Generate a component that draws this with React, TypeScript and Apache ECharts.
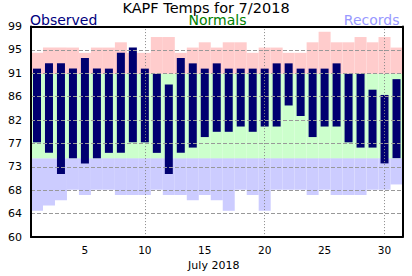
import React, { useEffect, useRef } from "react";
import * as echarts from "echarts";

const days = Array.from({ length: 31 }, (_, i) => String(i + 1));
const obsHigh = [91, 92, 92, 91, 93, 91, 91, 94, 95, 91, 90, 88, 93, 92, 91, 92, 91, 91, 91, 91, 92, 92, 91, 91, 91, 92, 90, 90, 87, 86, 89];
const obsLow = [77, 75, 71, 74, 73, 74, 75, 75, 77, 77, 75, 71, 75, 76, 78, 79, 79, 80, 79, 80, 80, 84, 82, 78, 80, 80, 77, 76, 76, 73, 74];
const recHigh = [94, 95, 95, 95, 94, 95, 95, 96, 94, 94, 97, 97, 94, 95, 96, 95, 96, 96, 94, 95, 95, 94, 94, 96, 98, 96, 96, 97, 96, 97, 95];
const recLow = [64, 65, 66, 68, 67, 68, 68, 67, 67, 67, 68, 67, 67, 66, 67, 66, 64, 68, 67, 64, 68, 68, 68, 67, 68, 67, 67, 67, 68, 68, 69];
const normHigh = Array.from({ length: 31 }, () => 90);
const normLow = Array.from({ length: 31 }, () => 74);
const yLabels = ["60", "64", "68", "73", "77", "82", "86", "91", "95", "99"];
const dottedDays = ["10", "20", "30"];

const Y_MIN = 59;
const Y_MAX = 99;
const Y_STEP = (Y_MAX - Y_MIN) / 9;
const FONT = "DejaVu Sans";

export default function App() {
  const ref = useRef<HTMLDivElement>(null);
  useEffect(() => {
    document.body.style.margin = "0";
    if (!ref.current) return;
    const chart = echarts.init(ref.current, undefined, { renderer: "svg" });
    const bandData = days.map((_, i) => [i, recLow[i], normLow[i], normHigh[i], recHigh[i]]);
    const obsData = days.map((_, i) => [i, obsLow[i], obsHigh[i]]);
    const option: any = {
      animation: false,
      backgroundColor: "#ffffff",
      title: [
        { text: "KAPF Temps for 7/2018", left: "center", top: 0, padding: 0, textStyle: { fontFamily: FONT, fontSize: 14.5, fontWeight: "normal", color: "#000" } },
        { text: "Observed", left: 30, top: 12.5, padding: 0, textStyle: { fontFamily: FONT, fontSize: 14, fontWeight: "normal", color: "#000080" } },
        { text: "Normals", left: 188.5, top: 12.5, padding: 0, textStyle: { fontFamily: FONT, fontSize: 14, fontWeight: "normal", color: "#008000" } },
        { text: "Records", right: 12.5, top: 12.5, padding: 0, textStyle: { fontFamily: FONT, fontSize: 14, fontWeight: "normal", color: "#9999ff" } },
      ],
      grid: { left: 31, right: 9.5, top: 26.5, bottom: 29.5, containLabel: false },
      xAxis: [
        {
          type: "category",
          data: days,
          boundaryGap: true,
          position: "bottom",
          z: 11,
          axisLine: { onZero: false, lineStyle: { color: "#000", width: 2 } },
          axisTick: { alignWithLabel: true, interval: 0, length: 4, lineStyle: { color: "#000", width: 1 } },
          axisLabel: { interval: (i: number) => (i + 1) % 5 === 0, margin: 7, color: "#000", fontSize: 10.5, fontFamily: FONT },
          splitLine: { show: false },
          name: "July 2018",
          nameLocation: "middle",
          nameGap: 16,
          nameTextStyle: { fontFamily: FONT, fontSize: 11, color: "#000", padding: [0, 6, 0, 0] },
        },
        {
          type: "category",
          data: days,
          position: "top",
          z: 11,
          axisLine: { onZero: false, lineStyle: { color: "#000", width: 2 } },
          axisTick: { show: false },
          axisLabel: { show: false },
          splitLine: { show: false },
        },
      ],
      yAxis: [
        {
          type: "value",
          min: Y_MIN,
          max: Y_MAX,
          interval: Y_STEP,
          z: 10,
          axisLine: { show: true, onZero: false, lineStyle: { color: "#000", width: 2 } },
          axisTick: { show: false },
          axisLabel: {
            margin: 9,
            color: "#000",
            fontSize: 11,
            fontFamily: FONT,
            formatter: (v: number) => yLabels[Math.round((v - Y_MIN) / Y_STEP)] ?? "",
          },
          splitLine: { show: true, lineStyle: { color: "#999999", width: 1, type: [4, 2] } },
        },
        {
          type: "value",
          min: Y_MIN,
          max: Y_MAX,
          interval: Y_STEP,
          position: "right",
          z: 11,
          axisLine: { show: true, onZero: false, lineStyle: { color: "#000", width: 2 } },
          axisTick: { show: false },
          axisLabel: { show: false },
          splitLine: { show: false },
        },
      ],
      series: [
        {
          type: "custom",
          name: "bands",
          data: bandData,
          encode: { x: 0, y: [1, 2, 3, 4] },
          renderItem: (params: any, api: any) => {
            const x = api.value(0);
            const w = api.size([1, 0])[0];
            const pRl = api.coord([x, api.value(1)]);
            const pNl = api.coord([x, api.value(2)]);
            const pNh = api.coord([x, api.value(3)]);
            const pRh = api.coord([x, api.value(4)]);
            const left = pRl[0] - w / 2;
            return {
              type: "group",
              children: [
                { type: "rect", shape: { x: left, y: pNl[1], width: w, height: pRl[1] - pNl[1] }, style: { fill: "#ccccff" } },
                { type: "rect", shape: { x: left, y: pNh[1], width: w, height: pNl[1] - pNh[1] }, style: { fill: "#ccffcc" } },
                { type: "rect", shape: { x: left, y: pRh[1], width: w, height: pNh[1] - pRh[1] }, style: { fill: "#ffcccc" } },
              ],
            };
          },
          z: 2,
        },
        {
          type: "custom",
          name: "observed",
          data: obsData,
          encode: { x: 0, y: [1, 2] },
          renderItem: (params: any, api: any) => {
            const x = api.value(0);
            const pLo = api.coord([x, api.value(1)]);
            const pHi = api.coord([x, api.value(2)]);
            const bw = 8;
            return {
              type: "rect",
              shape: { x: pLo[0] - bw / 2, y: pHi[1], width: bw, height: pLo[1] - pHi[1] },
              style: { fill: "#000070" },
            };
          },
          z: 3,
          markLine: {
            silent: true,
            symbol: ["none", "none"],
            label: { show: false },
            lineStyle: { color: "#888888", width: 1, type: [1, 2] },
            data: dottedDays.map((d) => ({ xAxis: d })),
          },
        },
      ],
    };
    chart.setOption(option);
    return () => chart.dispose();
  }, []);
  return <div ref={ref} style={{ width: 412, height: 276 }} />;
}
